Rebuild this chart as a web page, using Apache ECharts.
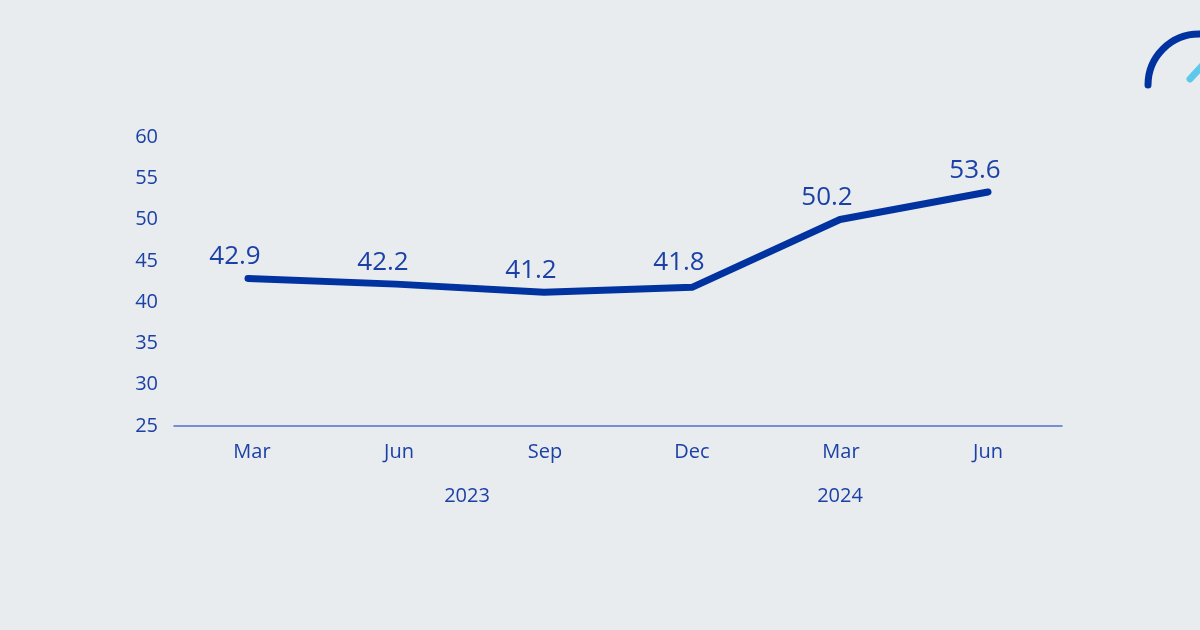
<!DOCTYPE html>
<html><head><meta charset="utf-8">
<style>html,body{margin:0;padding:0;background:#e9ecef}#c{width:1200px;height:630px}</style>
<script src="https://cdn.jsdelivr.net/npm/echarts@6/dist/echarts.min.js"></script>
</head><body><div id="c"></div>
<script>
const months=['Mar','Jun','Sep','Dec','Mar','Jun'];
const values=[42.9,42.2,41.2,41.8,50.2,53.6];
const years=['2023','2024'];
const yearPositions=[1.48,4];
const yTicks=[25,30,35,40,45,50,55,60];
const blue='#0033a0';
const textBlue='#1c41a6';
const font='"Open Sans","Noto Sans",sans-serif';
const monthPad=[8,6,2,0,2,0];
const valueLift=[0,0,0,3,0,-1];
const chart=echarts.init(document.getElementById('c'),null,{renderer:'canvas'});
chart.setOption({
 backgroundColor:'#e9ecef',animation:false,
 grid:{left:174,right:138,top:137,height:289,containLabel:false},
 xAxis:[{type:'category',boundaryGap:true,
  data:months.map((m,i)=>({value:m,textStyle:{padding:[0,0,0,monthPad[i]]}})),
  axisLine:{lineStyle:{color:'#4f6fcb',width:1.5}},axisTick:{show:false},
  axisLabel:{color:textBlue,fontFamily:font,fontSize:20,margin:16,interval:0}},
  {type:'value',position:'bottom',min:-0.5,max:5.5,
  axisLine:{show:false},axisTick:{show:false},splitLine:{show:false},
  axisLabel:{color:textBlue,fontFamily:font,fontSize:20,margin:60,
   customValues:yearPositions,formatter:v=>years[yearPositions.indexOf(v)]}}],
 yAxis:[{type:'value',min:yTicks[0],max:yTicks[yTicks.length-1],interval:5,
  axisLine:{show:false},axisTick:{show:false},splitLine:{show:false},
  axisLabel:{color:textBlue,fontFamily:font,fontSize:20,margin:16}},
  {type:'value',show:false,min:24.65,max:60.4,splitLine:{show:false}}],
 series:[{type:'line',yAxisIndex:1,symbol:'circle',symbolSize:2,showSymbol:true,
  data:values.map((v,i)=>({value:v,label:{distance:8+valueLift[i]}})),
  itemStyle:{color:blue},
  lineStyle:{color:blue,width:7,cap:'round',join:'round'},
  label:{show:true,position:'top',offset:[-13,0],color:textBlue,fontFamily:font,fontSize:26,formatter:p=>p.value.toFixed(1)}}],
 graphic:[
  {type:'arc',shape:{cx:1199,cy:85,r:51,startAngle:Math.PI,endAngle:Math.PI*1.6},style:{fill:null,stroke:blue,lineWidth:7,lineCap:'round'}},
  {type:'line',shape:{x1:1190,y1:79,x2:1212,y2:55},style:{stroke:'#5cc8ea',lineWidth:7,lineCap:'round'}}
 ]
});
</script></body></html>
